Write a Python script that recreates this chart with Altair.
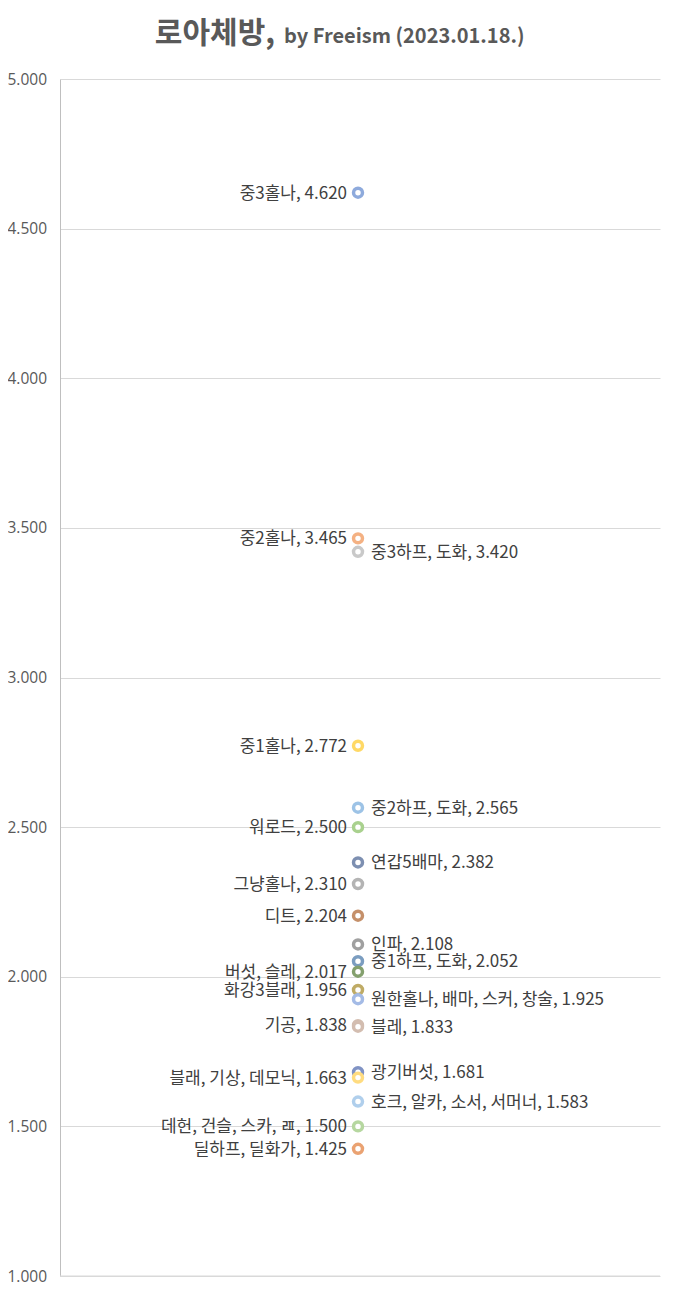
import altair as alt
import pandas as pd

# ---- data ----
names = ["중3홀나", "중2홀나", "중3하프, 도화", "중1홀나", "중2하프, 도화", "워로드",
         "연갑5배마", "그냥홀나", "디트", "인파", "중1하프, 도화", "버섯, 슬레",
         "화강3블래", "원한홀나, 배마, 스커, 창술", "기공", "블레", "광기버섯",
         "블래, 기상, 데모닉", "호크, 알카, 소서, 서머너", "데헌, 건슬, 스카, ㄿ", "딜하프, 딜화가"]
values = [4.620, 3.465, 3.420, 2.772, 2.565, 2.500,
          2.382, 2.310, 2.204, 2.108, 2.052, 2.017,
          1.956, 1.925, 1.838, 1.833, 1.681,
          1.663, 1.583, 1.500, 1.425]
sides = ["left", "left", "right", "left", "right", "left",
         "right", "left", "left", "right", "right", "left",
         "left", "right", "left", "right", "right",
         "left", "right", "left", "left"]
y_ticks = [1.0, 1.5, 2.0, 2.5, 3.0, 3.5, 4.0, 4.5, 5.0]
title_main = "로아체방,"
title_sub = "by Freeism (2023.01.18.)"

# ---- styles ----
palette = ["#8eaadc", "#f4b183", "#c9c9c9", "#ffd966", "#9dc3e6", "#a9d18e",
           "#7d8fb1", "#b4b4b4", "#c5906a", "#a0a0a0", "#7b9dc0", "#84a06e",
           "#bfab65", "#a4bbe6", "#d3bdb0", "#d3bdb0", "#8093c4",
           "#ffdc80", "#b0cfec", "#b6d7a0", "#eaa272"]

df = pd.DataFrame({
    "name": names,
    "value": values,
    "side": sides,
    "pos": [1.0] * len(names),
    "order": list(range(len(names))),
})
df["label"] = [f"{n}, {v:.3f}" for n, v in zip(names, values)]

W, H = 600, 1197
FONT = "Noto Sans CJK KR"

x_enc = alt.X("pos:Q", scale=alt.Scale(domain=[0, 2.0134]), axis=None)
y_scale = alt.Scale(domain=[1, 5], nice=False, zero=False)

base = alt.Chart(df)

points = base.mark_point(shape="circle", fill="white", fillOpacity=1,
                         strokeWidth=3.5, size=80, opacity=1).encode(
    x=x_enc,
    y=alt.Y("value:Q", scale=y_scale,
            axis=alt.Axis(values=y_ticks, format=".3f", title=None,
                          ticks=False, labelAlign="left", labelPadding=53,
                          labelFont="Open Sans", labelFontSize=15.5,
                          labelColor="#595959", domainColor="#bfbfbf",
                          gridColor="#d9d9d9", labelBaseline="middle")),
    stroke=alt.Color("name:N", scale=alt.Scale(domain=names, range=palette),
                     legend=None),
    order=alt.Order("order:Q"),
)

left_labels = base.transform_filter(alt.datum.side == "left").mark_text(
    align="right", baseline="middle", dx=-11, dy=1, font=FONT, fontSize=17,
    color="#404040").encode(x=x_enc, y=alt.Y("value:Q", scale=y_scale), text="label:N")

right_labels = base.transform_filter(alt.datum.side == "right").mark_text(
    align="left", baseline="middle", dx=13, dy=1, font=FONT, fontSize=17,
    color="#404040").encode(x=x_enc, y=alt.Y("value:Q", scale=y_scale), text="label:N")

t1 = alt.Chart(pd.DataFrame({"t": [title_main]})).mark_text(
    align="right", baseline="middle", font=FONT, fontSize=30, fontWeight="bold",
    color="#595959").encode(text="t:N", x=alt.value(215), y=alt.value(-45))
t2 = alt.Chart(pd.DataFrame({"t": [title_sub]})).mark_text(
    align="left", baseline="middle", font=FONT, fontSize=20, fontWeight="bold",
    color="#595959").encode(text="t:N", x=alt.value(224), y=alt.value(-42))

bottom = alt.Chart(pd.DataFrame({"a": [0]})).mark_rule(color="#d9d9d9", strokeWidth=1).encode(
    x=alt.value(0), x2=alt.value(W), y=alt.value(H))

chart = alt.layer(points, left_labels, right_labels, t1, t2, bottom).properties(
    width=W, height=H,
    padding={"left": 52, "top": 71, "right": 6, "bottom": 10},
    autosize=alt.AutoSizeParams(type="none"),
).configure_view(stroke=None).configure_axis(domainColor="#bfbfbf")

chart.save("out.html", embed_options={"renderer": "svg", "actions": False})
